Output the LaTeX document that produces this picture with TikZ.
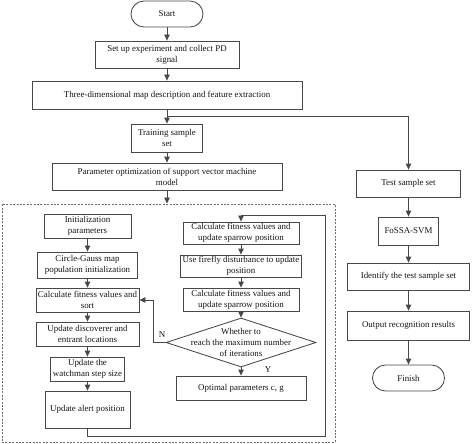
\documentclass[tikz,border=0pt]{standalone}
\usepackage{fontspec}
\setmainfont{Liberation Serif}
\usetikzlibrary{shapes.geometric,arrows.meta}
\definecolor{edge}{HTML}{484848}
\definecolor{ink}{HTML}{141414}
\begin{document}
\begin{tikzpicture}[x=1pt,y=-1pt,
  every node/.style={font=\fontsize{8.9}{11}\selectfont, text=ink},
  box/.style={draw=edge, line width=0.85pt, rectangle, inner sep=0pt, align=center},
  term/.style={box, rounded corners=13pt},
  txt/.style={inner sep=0pt, align=center},
  dashedbox/.style={draw=edge!80, line width=0.9pt, dash pattern=on 2pt off 1.4pt, inner sep=0pt},
  conn/.style={draw=edge, line width=0.85pt},
  arr/.style={conn, -{Triangle[length=6pt,width=5.5pt]}}
]
\useasboundingbox (0,0) rectangle (474,444);

% main column
\node[term, minimum width=72pt, minimum height=26pt] (start) at (167,14) {Start};
\node[box, minimum width=144pt, minimum height=27pt] (setup) at (167,54.5) {Set up experiment and collect PD\\signal};
\node[box, minimum width=270pt, minimum height=28pt] (three) at (167,95) {Three-dimensional map description and feature extraction};
\node[box, minimum width=71pt, minimum height=28pt] (train) at (167,138) {Training sample\\set};
\node[box, minimum width=230pt, minimum height=27pt] (param) at (167,176.5) {Parameter optimization of support vector machine\\model};

% dashed frame
\node[dashedbox, minimum width=333pt, minimum height=238pt] (frame) at (168.5,323) {};

% inner left column
\node[box, minimum width=87pt, minimum height=24pt] (init) at (87.5,226) {Initialization\\parameters};
\node[box, minimum width=100pt, minimum height=26pt] (circ) at (87.5,265) {Circle-Gauss map\\population initialization};
\node[box, minimum width=103pt, minimum height=24pt] (calcA) at (87.5,300) {Calculate fitness values and\\sort};
\node[box, minimum width=103pt, minimum height=24pt] (disc) at (87.5,334) {Update discoverer and\\entrant locations};
\node[box, minimum width=74pt, minimum height=24pt] (watch) at (87.5,369) {Update the\\watchman step size};
\node[box, minimum width=85pt, minimum height=37pt] (alert) at (87.5,409.5) {Update alert position};

% inner right column
\node[box, minimum width=116pt, minimum height=22pt] (calcB) at (241,233) {Calculate fitness values and\\update sparrow position};
\node[box, minimum width=121pt, minimum height=22pt] (fire) at (241,266) {Use firefly disturbance to update\\position};
\node[box, minimum width=116pt, minimum height=23pt] (calcC) at (241,299.5) {Calculate fitness values and\\update sparrow position};
\node[diamond, draw=edge, line width=0.85pt, minimum width=150pt, minimum height=49pt, inner sep=0pt] (dia) at (241,342.5) {};
\node[txt] (diatext) at (dia.center) {Whether to\\reach the maximum number\\of iterations};
\node[box, minimum width=130pt, minimum height=24pt] (opt) at (241,388) {Optimal parameters c, g};

% right column
\node[box, minimum width=104pt, minimum height=27pt] (test) at (408.5,183.5) {Test sample set};
\node[box, minimum width=60pt, minimum height=28pt] (fossa) at (408.5,231) {FoSSA-SVM};
\node[box, minimum width=122pt, minimum height=27pt] (ident) at (408.5,276.5) {Identify the test sample set};
\node[box, minimum width=122pt, minimum height=29pt] (outp) at (408.5,325.5) {Output recognition results};
\node[term, minimum width=72pt, minimum height=26pt] (finish) at (408.5,378) {Finish};

% labels
\node[txt] (ylab) at (268,370) {Y};
\node[txt] (nlab) at (162,335) {N};

% helper coordinates
\coordinate (br) at (167,116);
\coordinate (fbA) at (325,436);
\coordinate (fbB) at (325,215);
\coordinate (nA) at (153,342.5);

% connectors main
\draw[arr] (start) -- (setup);
\draw[arr] (setup) -- (three);
\draw[arr] (three) -- (train);
\draw[arr] (br) -| (test.north);
\draw[arr] (train) -- (param);
\draw[arr] (param.south) -- (param.south |- frame.north);

% inner left
\draw[arr] (init) -- (circ);
\draw[arr] (circ) -- (calcA);
\draw[arr] (calcA) -- (disc);
\draw[arr] (disc) -- (watch);
\draw[arr] (watch) -- (alert);
\draw[arr] (alert.south) |- (fbA) -- (fbB) -| (calcB.north);

% inner right
\draw[arr] (calcB) -- (fire);
\draw[arr] (fire) -- (calcC);
\draw[arr] (calcC) -- (dia);
\draw[arr] (dia) -- (opt);
\draw[arr] (dia.west) -- (nA) |- (calcA.east);

% right column
\draw[arr] (test) -- (fossa);
\draw[arr] (fossa) -- (ident);
\draw[arr] (ident) -- (outp);
\draw[arr] (outp) -- (finish);
\end{tikzpicture}
\end{document}
